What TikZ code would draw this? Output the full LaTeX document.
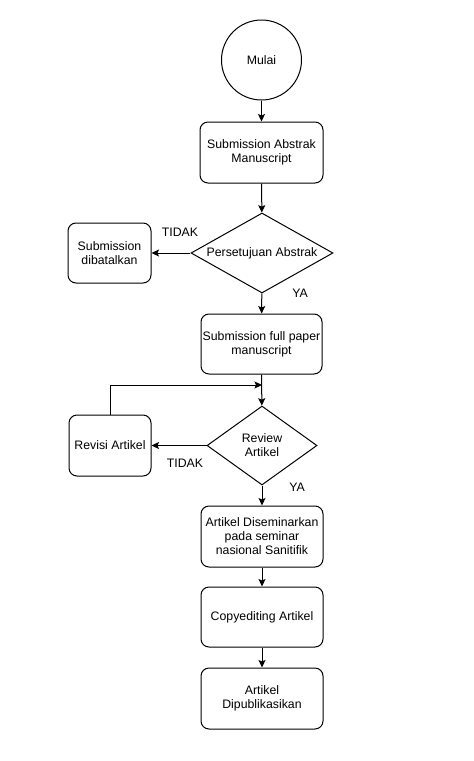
\documentclass[tikz,border=0pt]{standalone}
\usepackage{fontspec}
\setmainfont{Liberation Sans}
\usetikzlibrary{shapes.geometric,arrows.meta}
\begin{document}
\begin{tikzpicture}[x=1pt,y=-1pt,
  every node/.style={font=\fontsize{12.3}{14}\selectfont},
  proc/.style={draw, line width=1pt, rounded corners=8pt, align=center, inner sep=0pt},
  dec/.style={draw, line width=1pt, diamond, inner sep=0pt},
  txt/.style={align=center, inner sep=0pt},
  conn/.style={line width=1pt, -{Stealth[length=7.5pt,width=7pt,inset=1.5pt]}},
  lbl/.style={inner sep=0pt}]
\useasboundingbox (0,0) rectangle (474,761);
\node[draw, line width=1pt, circle, minimum size=80pt, inner sep=0pt] (start) at (261.5,60) {Mulai};
\node[proc, minimum width=123pt, minimum height=61pt] (b1) at (261.5,152.5) {Submission Abstrak\\Manuscript};
\node[dec, minimum width=142pt, minimum height=80pt] (d1) at (262,253) {};
\node[txt] (d1t) at (d1.center) {Persetujuan Abstrak};
\node[proc, minimum width=83pt, minimum height=60pt] (cancel) at (109.5,253) {Submission\\dibatalkan};
\node[proc, minimum width=121pt, minimum height=60pt] (b2) at (261.5,344) {Submission full paper\\manuscript};
\node[dec, minimum width=110pt, minimum height=79pt] (d2) at (262,445.5) {};
\node[txt] (d2t) at (d2.center) {Review\\Artikel};
\node[proc, minimum width=82pt, minimum height=61pt] (rev) at (110,445.5) {Revisi Artikel};
\node[proc, minimum width=122pt, minimum height=61pt] (b3) at (262,536.5) {Artikel Diseminarkan\\pada seminar\\nasional Sanitifik};
\node[proc, minimum width=122pt, minimum height=60pt] (b4) at (262,617) {Copyediting Artikel};
\node[proc, minimum width=122pt, minimum height=61pt] (b5) at (262,698.5) {Artikel\\Dipublikasikan};
\coordinate (j) at (262,385);
\coordinate (lc) at (110,385);
\draw[conn] (start) -- (b1);
\draw[conn] (b1) -- (d1);
\draw[conn] (d1) -- (cancel);
\draw[conn] (d1) -- (b2);
\draw[conn] (b2) -- (d2);
\draw[conn] (d2) -- (rev);
\draw[conn] (rev.north) -- (lc) -- (j);
\draw[conn] (d2) -- (b3);
\draw[conn] (b3) -- (b4);
\draw[conn] (b4) -- (b5);
\node[lbl] (t1) at (180,232) {TIDAK};
\node[lbl] (y1) at (300,293) {YA};
\node[lbl] (t2) at (185,463) {TIDAK};
\node[lbl] (y2) at (297,487) {YA};
\end{tikzpicture}
\end{document}
